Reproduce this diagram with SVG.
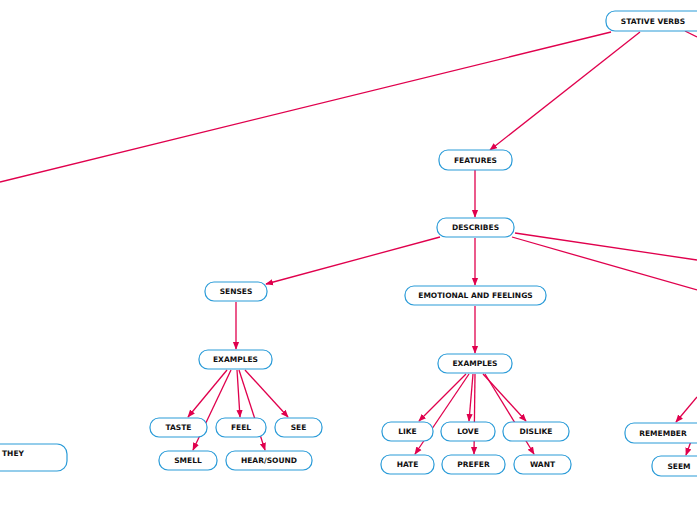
<svg xmlns="http://www.w3.org/2000/svg" width="697" height="520" viewBox="0 0 697 520">
<style>
.n rect{fill:#fff;stroke:#2a9bd8;stroke-width:1.2}
.n text{font-family:Verdana,"DejaVu Sans",sans-serif;font-size:7.5px;font-weight:bold;fill:#111;text-anchor:middle}
#c line{stroke:#e0004d;stroke-width:1.3}
</style>
<defs><marker id="a" viewBox="0 0 10 10" refX="9" refY="5" markerWidth="6" markerHeight="6" orient="auto"><path d="M0,1 L10,5 L0,9 z" fill="#e0004d"/></marker></defs>
<rect width="697" height="520" fill="#fff"/>
<g id="c">
<line x1="611" y1="32" x2="0" y2="182"/>
<line x1="685" y1="31" x2="697" y2="37"/>
<line x1="640" y1="32" x2="490" y2="150" marker-end="url(#a)"/>
<line x1="475" y1="170" x2="475" y2="217" marker-end="url(#a)"/>
<line x1="440" y1="237" x2="266" y2="284" marker-end="url(#a)"/>
<line x1="475" y1="238" x2="475" y2="285" marker-end="url(#a)"/>
<line x1="515" y1="233" x2="697" y2="260"/>
<line x1="512" y1="237" x2="697" y2="290"/>
<line x1="236" y1="302" x2="236" y2="349" marker-end="url(#a)"/>
<line x1="227" y1="370" x2="188" y2="417" marker-end="url(#a)"/>
<line x1="231" y1="370" x2="193" y2="450" marker-end="url(#a)"/>
<line x1="237" y1="370" x2="240" y2="417" marker-end="url(#a)"/>
<line x1="239" y1="370" x2="265" y2="450" marker-end="url(#a)"/>
<line x1="245" y1="370" x2="288" y2="417" marker-end="url(#a)"/>
<line x1="475" y1="306" x2="475" y2="353" marker-end="url(#a)"/>
<line x1="466" y1="374" x2="419" y2="421" marker-end="url(#a)"/>
<line x1="469" y1="374" x2="415" y2="454" marker-end="url(#a)"/>
<line x1="473" y1="374" x2="469" y2="421" marker-end="url(#a)"/>
<line x1="475" y1="374" x2="474" y2="454" marker-end="url(#a)"/>
<line x1="483" y1="374" x2="526" y2="421" marker-end="url(#a)"/>
<line x1="485" y1="374" x2="534" y2="454" marker-end="url(#a)"/>
<line x1="697" y1="397" x2="676" y2="422" marker-end="url(#a)"/>
<line x1="697" y1="425" x2="686" y2="455" marker-end="url(#a)"/>
</g>
<g id="stative" class="n"><rect x="606" y="11" width="100" height="20" rx="9"/><text x="653" y="24">STATIVE VERBS</text></g>
<g id="features" class="n"><rect x="439" y="150" width="73" height="20" rx="9"/><text x="475.5" y="163">FEATURES</text></g>
<g id="describes" class="n"><rect x="437" y="218" width="77" height="19" rx="9"/><text x="475.5" y="230">DESCRIBES</text></g>
<g id="senses" class="n"><rect x="205" y="282" width="62" height="19" rx="9"/><text x="236" y="294">SENSES</text></g>
<g id="emotional" class="n"><rect x="405" y="286" width="141" height="19" rx="9"/><text x="475.5" y="298">EMOTIONAL AND FEELINGS</text></g>
<g id="ex1" class="n"><rect x="199" y="350" width="73" height="19" rx="9"/><text x="235.5" y="362">EXAMPLES</text></g>
<g id="ex2" class="n"><rect x="438" y="354" width="74" height="19" rx="9"/><text x="475" y="366">EXAMPLES</text></g>
<g id="taste" class="n"><rect x="150" y="418" width="57" height="19" rx="9"/><text x="178.5" y="430">TASTE</text></g>
<g id="feel" class="n"><rect x="216" y="418" width="50" height="19" rx="9"/><text x="241" y="430">FEEL</text></g>
<g id="see" class="n"><rect x="275" y="418" width="47" height="19" rx="9"/><text x="298.5" y="430">SEE</text></g>
<g id="smell" class="n"><rect x="159" y="451" width="58" height="19" rx="9"/><text x="188" y="463">SMELL</text></g>
<g id="hear" class="n"><rect x="226" y="451" width="86" height="19" rx="9"/><text x="269" y="463">HEAR/SOUND</text></g>
<g id="like" class="n"><rect x="382" y="422" width="51" height="19" rx="9"/><text x="407.5" y="434">LIKE</text></g>
<g id="love" class="n"><rect x="441" y="422" width="54" height="19" rx="9"/><text x="468" y="434">LOVE</text></g>
<g id="dislike" class="n"><rect x="503" y="422" width="66" height="19" rx="9"/><text x="536" y="434">DISLIKE</text></g>
<g id="hate" class="n"><rect x="381" y="455" width="53" height="19" rx="9"/><text x="407.5" y="467">HATE</text></g>
<g id="prefer" class="n"><rect x="442" y="455" width="63" height="19" rx="9"/><text x="473.5" y="467">PREFER</text></g>
<g id="want" class="n"><rect x="514" y="455" width="57" height="19" rx="9"/><text x="542.5" y="467">WANT</text></g>
<g id="remember" class="n"><rect x="625" y="423" width="85" height="20" rx="9"/><text x="663" y="436">REMEMBER</text></g>
<g id="seem" class="n"><rect x="652" y="456" width="60" height="20" rx="9"/><text x="679" y="469">SEEM</text></g>
<g id="they" class="n"><rect x="-40" y="444" width="107" height="27" rx="10"/><text x="2" y="456" style="text-anchor:start">THEY</text></g>
</svg>
